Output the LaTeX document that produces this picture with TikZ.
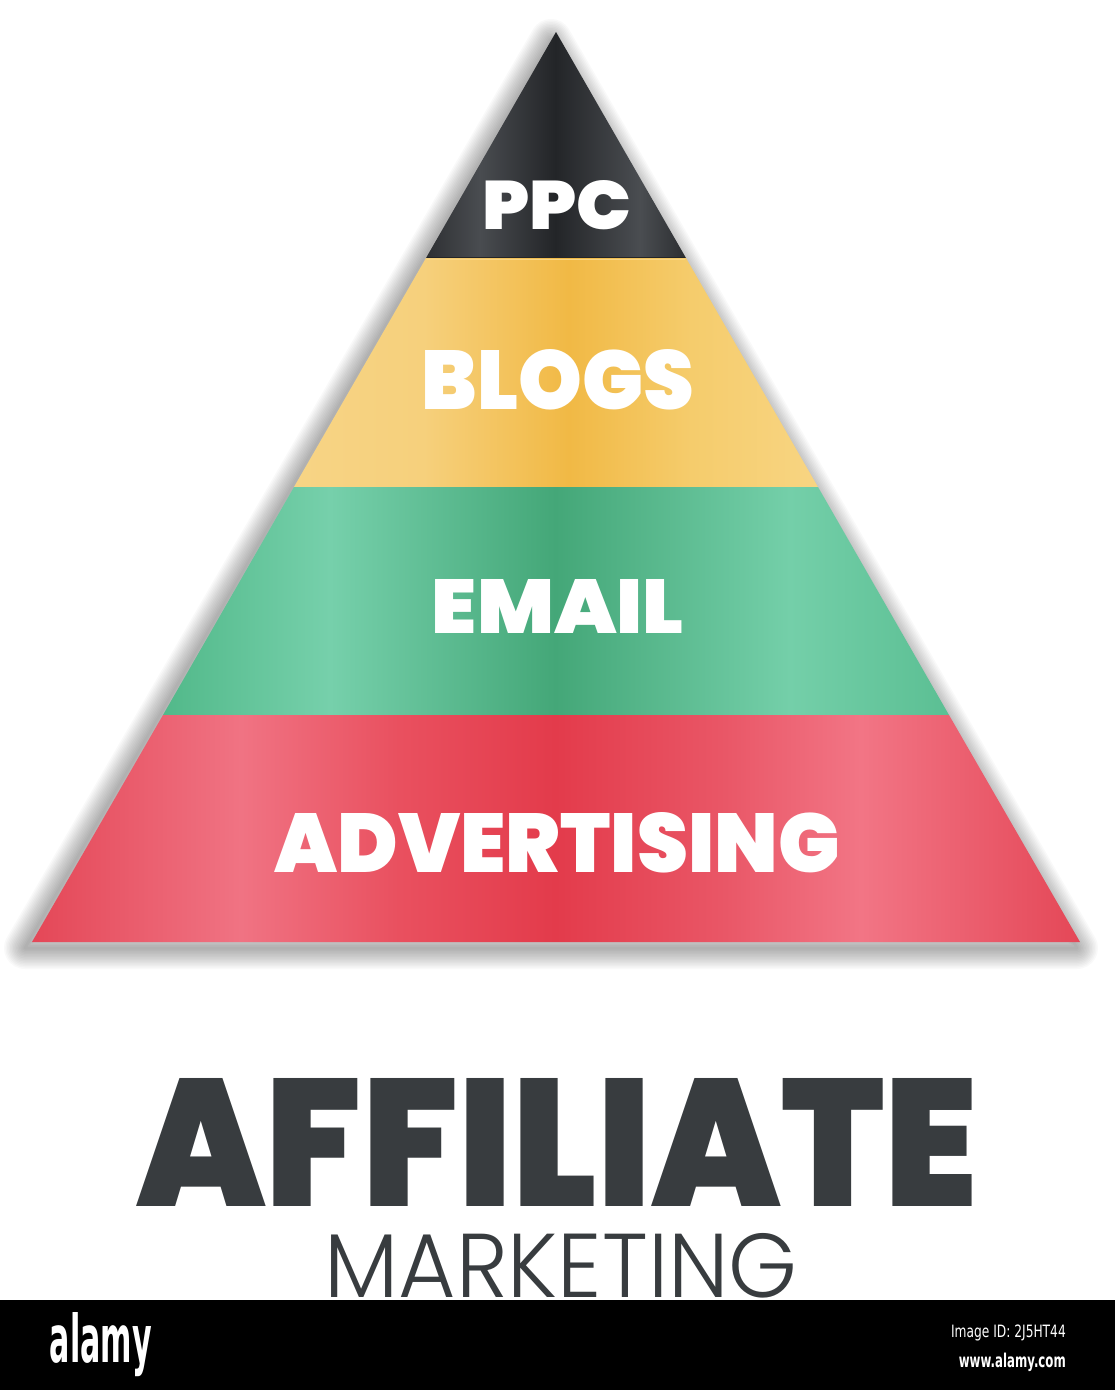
\documentclass[tikz,border=0pt]{standalone}
\usepackage{fontspec}
\IfFontExistsTF{Poppins Black}{\newfontfamily\heavyfont{Poppins Black}}{\newfontfamily\heavyfont{Poppins}[FakeBold=3]}
\IfFontExistsTF{Poppins Light}{\newfontfamily\lightfont{Poppins Light}}{\newfontfamily\lightfont{Poppins}}
\newfontfamily\narrowfont{DejaVu Sans}[FakeStretch=0.72]
\newfontfamily\narrowbold{DejaVu Sans Bold}[FakeStretch=0.62]
\definecolor{titlegray}{HTML}{383C3F}
\definecolor{rA}{HTML}{E44757}\definecolor{rB}{HTML}{F07383}\definecolor{rC}{HTML}{E9505F}
\definecolor{rD}{HTML}{E33B4B}\definecolor{rE}{HTML}{E95666}\definecolor{rF}{HTML}{F27585}
\definecolor{gA}{HTML}{52B98A}\definecolor{gB}{HTML}{76D0AB}\definecolor{gC}{HTML}{44A778}
\definecolor{gD}{HTML}{74CFA9}\definecolor{gE}{HTML}{5BBF93}
\definecolor{yA}{HTML}{F7D485}\definecolor{yB}{HTML}{F6D07C}\definecolor{yC}{HTML}{F1B945}
\definecolor{yD}{HTML}{F5CC6C}\definecolor{yE}{HTML}{F8D583}
\definecolor{kA}{HTML}{2E3033}\definecolor{kB}{HTML}{494C50}\definecolor{kC}{HTML}{232528}
\definecolor{kD}{HTML}{4A4D51}\definecolor{kE}{HTML}{2A2C2F}
\pgfdeclarehorizontalshading{redband}{100bp}{color(0bp)=(rA); color(26.4bp)=(rA); color(35.8bp)=(rB); color(42.9bp)=(rC); color(49.9bp)=(rD); color(57.3bp)=(rE); color(63.6bp)=(rF); color(73.5bp)=(rA); color(100bp)=(rA)}
\pgfdeclarehorizontalshading{greenband}{100bp}{color(0bp)=(gA); color(32.4bp)=(gA); color(39.8bp)=(gB); color(49.9bp)=(gC); color(60.4bp)=(gD); color(67.6bp)=(gE); color(100bp)=(gE)}
\pgfdeclarehorizontalshading{yellowband}{100bp}{color(0bp)=(yA); color(38.2bp)=(yA); color(44bp)=(yB); color(50.5bp)=(yC); color(56bp)=(yD); color(61.8bp)=(yE); color(100bp)=(yE)}
\pgfdeclarehorizontalshading{darkband}{100bp}{color(0bp)=(kA); color(44.1bp)=(kA); color(46.5bp)=(kB); color(49.9bp)=(kC); color(53.7bp)=(kD); color(55.9bp)=(kE); color(100bp)=(kE)}
\tikzset{
  bandtext/.style={text=white, inner sep=0pt, anchor=center},
  titletext/.style={text=titlegray, inner sep=0pt, anchor=center},
}
\begin{document}
\begin{tikzpicture}[x=1pt,y=-1pt]
\useasboundingbox (0,0) rectangle (1115,1390);
\fill[white] (0,0) rectangle (1115,1390);
% soft shadow of pyramid (stacked translucent outlines)
\foreach \i in {1,...,14} {
  \draw[black, draw opacity=0.022, line width=\i*3pt, line join=round]
    (551,40) -- (1077,948) -- (25,948) -- cycle;
}
% bands
\begin{scope}
  \clip (556,32) -- (686,258) -- (426,258) -- cycle;
  \shade[shading=darkband] (0,30) rectangle (1115,260);
\end{scope}
\begin{scope}
  \clip (426,258) -- (686,258) -- (818,487) -- (294,487) -- cycle;
  \shade[shading=yellowband] (0,256) rectangle (1115,489);
\end{scope}
\begin{scope}
  \clip (294,487) -- (818,487) -- (949,715) -- (163,715) -- cycle;
  \shade[shading=greenband] (0,485) rectangle (1115,717);
\end{scope}
\begin{scope}
  \clip (163,715) -- (949,715) -- (1080,942) -- (32,942) -- cycle;
  \shade[shading=redband] (0,713) rectangle (1115,944);
\end{scope}
\draw[yE, line width=1.2pt] (427,259.5) -- (685,259.5);
\draw[kC, line width=0.8pt] (427,257.5) -- (685,257.5);
% band labels
\node[bandtext] (ppc) at (557,205) {\resizebox{149pt}{49pt}{\heavyfont PPC}};
\node[bandtext] (blogs) at (558,380) {\resizebox{272pt}{60pt}{\heavyfont BLOGS}};
\node[bandtext] (email) at (558,606) {\resizebox{252pt}{54pt}{\heavyfont EMAIL}};
\node[bandtext] (adv) at (557,843) {\resizebox{565pt}{60pt}{\heavyfont ADVERTISING}};
% title
\node[titletext] (aff) at (557,1142) {\resizebox{841pt}{128pt}{\heavyfont AFFILIATE}};
\node[titletext] (mkt) at (561,1266) {\resizebox{473pt}{64pt}{\lightfont MARKETING}};
% bottom bar
\fill[black] (0,1300) rectangle (1115,1390);
\node[text=white, inner sep=0pt] (logo) at (101,1345) {\resizebox{102pt}{50pt}{\narrowbold alamy}};
\node[text=white, inner sep=0pt, anchor=east] (imgid) at (1066,1333) {\fontsize{17}{20}\selectfont\narrowfont Image ID: 2J5HT44};
\node[text=white, inner sep=0pt, anchor=east] (www) at (1066,1362) {\fontsize{19}{22}\selectfont\narrowbold www.alamy.com};
\end{tikzpicture}
\end{document}
